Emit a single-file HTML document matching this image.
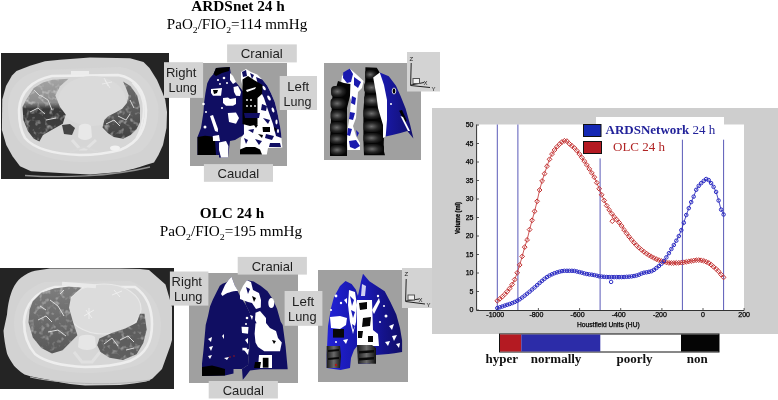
<!DOCTYPE html>
<html><head><meta charset="utf-8">
<style>
html,body{margin:0;padding:0;background:#fff}
body{width:778px;height:400px;position:relative;overflow:hidden}
.abs{position:absolute}
.ser{font-family:"Liberation Serif",serif;color:#000;white-space:nowrap}
.t1{font-weight:bold;font-size:14px;line-height:16px}
.t2{font-size:14px;line-height:16px}
sub{font-size:9px;vertical-align:-4px;line-height:0}
.lab{position:absolute;background:#d3d3d3;font-family:"Liberation Sans",sans-serif;font-size:13px;line-height:15px;color:#222;text-align:center}
.lab span{display:inline-block;transform:scaleX(1.04)}
.box{position:absolute;background:#9c9c9c}
.lt{font-family:"Liberation Sans",sans-serif;font-size:13px;fill:#1e1e1e}
.tk{font-family:"Liberation Sans",sans-serif;font-size:7px;fill:#000;stroke:#000;stroke-width:0.25px}
.lg{font-family:"Liberation Serif",serif;font-size:13px}
.bl{position:absolute;font-family:"Liberation Serif",serif;font-weight:bold;font-size:13px;color:#111;white-space:nowrap}
</style></head><body>
<div class="abs ser t1" style="left:138px;top:-0.7px;width:200px;text-align:center;transform:scaleX(1.095)">ARDSnet 24 h</div>
<div class="abs ser t2" style="left:137.2px;top:17px;width:200px;text-align:center;transform:scaleX(1.077)">PaO<sub>2</sub>/FIO<sub>2</sub>=114 mmHg</div>
<div class="abs ser t1" style="left:131.5px;top:205.5px;width:200px;text-align:center;transform:scaleX(1.09)">OLC 24 h</div>
<div class="abs ser t2" style="left:130.8px;top:224px;width:200px;text-align:center;transform:scaleX(1.088)">PaO<sub>2</sub>/FIO<sub>2</sub>=195 mmHg</div>

<svg class="abs" style="left:0;top:0" width="178" height="400" viewBox="0 0 178 400">
<defs>
<filter id="mot" x="0" y="0" width="100%" height="100%">
<feTurbulence type="fractalNoise" baseFrequency="0.2" numOctaves="2" seed="7" result="n"/>
<feColorMatrix in="n" type="matrix" values="0 0 0 0 1  0 0 0 0 1  0 0 0 0 1  0 0 0 -3 1.45"/>
<feComposite in2="SourceGraphic" operator="in"/>
</filter>
<linearGradient id="lgA" x1="0" y1="0" x2="0" y2="1"><stop offset="0" stop-color="#a4a4a4"/><stop offset="0.38" stop-color="#8c8c8c"/><stop offset="0.48" stop-color="#383838"/><stop offset="1" stop-color="#444"/></linearGradient>
<linearGradient id="lgB" x1="0" y1="0" x2="0" y2="1"><stop offset="0" stop-color="#6e6e6e"/><stop offset="0.5" stop-color="#5a5a5a"/><stop offset="1" stop-color="#404040"/></linearGradient>
<linearGradient id="lgC" x1="0" y1="0" x2="0" y2="1"><stop offset="0" stop-color="#7e7e7e"/><stop offset="1" stop-color="#585858"/></linearGradient>
</defs>
<!-- ===== CT1 ===== -->
<rect x="1" y="53" width="168" height="126" fill="#242424"/>
<path d="M2.25,99.5 L6,86 L12,75.5 L16.5,71 L30,65.7 L45,61.2 L60,59.7 L90,57.5 L130,58.2 L143.5,62 L149.5,68 L157,80 L162.2,92 L165.2,99.5 L167,112 L166.5,128 L163,145 L158.5,155 L154,162.5 C140,167 130,170 120,172 L90,174.5 L60,173.1 L31,171.3 L20,166.3 L12.5,156.3 L6.25,145 L1.9,130 Z" fill="#d2d2d2"/>
<path d="M25,175.5 C60,178 110,177 150,167" fill="none" stroke="#909090" stroke-width="1.3"/>
<path d="M8,105 C9,88 18,76 40,70 L120,67 C140,70 152,82 158,104 C160,120 156,140 140,152 C120,160 100,162 80,162 C55,161 30,155 18,140 C10,128 8,118 8,105 Z" fill="#d6d6d6"/>
<path d="M19,110 C20,92 32,80 52,76 L118,75 C136,78 145,92 146,110 C146,128 140,142 120,150 C105,154 90,155 80,155 C55,154 35,150 25,138 C20,130 19,120 19,110 Z" fill="none" stroke="#eeeeee" stroke-width="2.6"/>
<!-- heart -->
<ellipse cx="92" cy="101" rx="34" ry="25" fill="#dadada"/>
<path d="M105,80 L108,86 M102,84 L112,82 M104,78 L110,88" stroke="#eee" stroke-width="0.8"/>
<!-- left lung -->
<path id="l1" d="M26.3,99.4 L33.8,88 L43,82.5 L52.5,79.7 L68.5,78.75 L60,86.3 L55.3,95.6 L60,106.9 L65.7,114.4 L62.8,123.8 L52.5,129.4 L43,135 L39.4,141.6 L33.8,138.8 L28,131.3 L23.4,120 L22.5,106.9 Z" fill="url(#lgA)"/>
<path d="M26.3,99.4 L33.8,88 L43,82.5 L52.5,79.7 L68.5,78.75 L60,86.3 L55.3,95.6 L60,106.9 L65.7,114.4 L62.8,123.8 L52.5,129.4 L43,135 L39.4,141.6 L33.8,138.8 L28,131.3 L23.4,120 L22.5,106.9 Z" fill="#fff" filter="url(#mot)" opacity="0.45"/>
<path d="M62,125 L70,124 L75,128 L72,135 L64,134 Z" fill="#444"/>
<g stroke="#d8d8d8" stroke-width="1" fill="none"><path d="M30,112 L38,108 L45,114"/><path d="M40,95 L48,100 L52,110"/><path d="M46,120 L56,118"/><path d="M34,90 L40,96"/></g>
<!-- right lung -->
<path d="M123.1,81.6 L130.6,86.3 L137.2,95.6 L140,106.9 L140,121.9 L136.3,129.4 L130.6,135 L123.1,138.8 L113.8,136.9 L108.1,133.2 L102.5,127.5 L104.4,120 L108.1,116.3 L115.6,112.5 L122.2,108.8 L126.9,103.1 L128.8,95.6 L126,88.1 Z" fill="url(#lgB)"/>
<path d="M123.1,81.6 L130.6,86.3 L137.2,95.6 L140,106.9 L140,121.9 L136.3,129.4 L130.6,135 L123.1,138.8 L113.8,136.9 L108.1,133.2 L102.5,127.5 L104.4,120 L108.1,116.3 L115.6,112.5 L122.2,108.8 L126.9,103.1 L128.8,95.6 L126,88.1 Z" fill="#fff" filter="url(#mot)" opacity="0.45"/>
<g stroke="#d8d8d8" stroke-width="1" fill="none"><path d="M106,124 L114,120 L120,126"/><path d="M118,116 L126,120 L130,114"/><path d="M130,100 L134,108"/></g>
<path d="M132.5,82.5 C140,90 144,100 143.8,110 C143.5,120 142,128 136.3,138.8" fill="none" stroke="#ececec" stroke-width="2"/>
<!-- spine -->
<path d="M79,126 C82,123 88,123 91,126 L92,137 C89,141 81,141 78,137 Z" fill="#e8e8e8"/>
<path d="M72,140 L80,149 L86,149 L96,140" fill="none" stroke="#e2e2e2" stroke-width="3"/>
<path d="M70,152 L84,147 L98,152" fill="none" stroke="#d8d8d8" stroke-width="2"/>
<ellipse cx="115" cy="148" rx="5" ry="2.6" fill="#f2f2f2"/>
<rect x="71" y="71" width="18" height="4" fill="#ececec"/>

<!-- ===== CT2 ===== -->
<rect x="0" y="268" width="174" height="121" fill="#242424"/>
<path d="M7,314.5 C8,303 10,296 12.3,290 C15,284 18,280 21,277.8 C26,274 30,272 35,270.8 L50,268.5 L120,268.5 L140,269 L149,270 L165.5,284.5 L172,307 L172,340 L170.3,346 L162,369 L152.5,378.6 C150,380 148,381 146.3,381.5 C138,383 130,384 120,385 L85,385.5 C70,384.5 60,382.5 50,380 C40,378 32,377 24.5,374.5 C19,371 16,368 14,365.8 C10,360 8,356 7,353.5 C5,345 4,338 3.5,330.8 Z" fill="#d2d2d2"/>
<path d="M14,322 C15,302 25,288 45,282 L130,281 C150,288 160,305 161,324 C161,345 152,360 135,366 C115,372 100,373 85,373 C60,372 40,368 28,358 C18,348 14,336 14,322 Z" fill="#d6d6d6"/>
<path d="M24,322 C25,305 35,292 55,287 L135,287 C148,296 152,310 152,324 C152,342 146,354 130,361 C115,366 100,367 85,367 C62,366 45,362 35,354 C28,346 24,334 24,322 Z" fill="none" stroke="#eeeeee" stroke-width="2.6"/>
<!-- heart -->
<ellipse cx="104" cy="309" rx="37" ry="25" fill="#dcdcdc" stroke="#e8e8e8" stroke-width="1.2"/>
<g stroke="#f2f2f2" stroke-width="0.8"><path d="M84,316 L94,310 M86,310 L92,318 M89,308 L89,319"/><path d="M112,295 L122,291 M114,290 L120,297"/></g>
<!-- left lung -->
<path d="M32.8,301.3 L41.3,292.8 L54,288.5 L69,286.4 L81.7,287.4 L71,297 L69,307.7 L73.2,322.6 L77.4,335.3 L69,343.8 L62.6,350.2 L52,353.4 L41.3,348 L32.8,337.4 L28.5,322.6 L29.6,309.8 Z" fill="url(#lgC)"/>
<path d="M32.8,301.3 L41.3,292.8 L54,288.5 L69,286.4 L81.7,287.4 L71,297 L69,307.7 L73.2,322.6 L77.4,335.3 L69,343.8 L62.6,350.2 L52,353.4 L41.3,348 L32.8,337.4 L28.5,322.6 L29.6,309.8 Z" fill="#fff" filter="url(#mot)" opacity="0.4"/>
<g stroke="#dcdcdc" stroke-width="1" fill="none"><path d="M38,320 L46,316 L52,322"/><path d="M50,300 L58,306 L64,316"/><path d="M48,332 L58,330 L66,336"/><path d="M60,294 L64,290"/><path d="M40,306 L46,310"/></g>
<!-- right lung -->
<path d="M97.2,345.3 L99.4,338.6 L111.8,332.9 L125.3,328.4 L136.6,322.8 L140,313.8 L144.5,313.8 L146.7,329.5 L143.3,343 L136.6,354.3 L123,360 L109.5,357.7 L100.5,352 Z" fill="#5e5e5e"/>
<path d="M97.2,345.3 L99.4,338.6 L111.8,332.9 L125.3,328.4 L136.6,322.8 L140,313.8 L144.5,313.8 L146.7,329.5 L143.3,343 L136.6,354.3 L123,360 L109.5,357.7 L100.5,352 Z" fill="#fff" filter="url(#mot)" opacity="0.4"/>
<g stroke="#dcdcdc" stroke-width="1" fill="none"><path d="M104,344 L112,338 L118,346"/><path d="M120,340 L128,336 L134,342"/><path d="M126,350 L134,348"/></g>
<!-- spine -->
<path d="M79,337 C82,334 92,334 95,337 L96,347 C92,351 82,351 78,347 Z" fill="#e6e6e6"/>
<path d="M74,352 L82,362 L92,362 L100,352" fill="none" stroke="#e0e0e0" stroke-width="3"/>
<rect x="62" y="283" width="34" height="4" fill="#eaeaea" transform="rotate(4 79 285)"/>
<path d="M30,377 C55,383 110,387 150,380" fill="none" stroke="#b5b5b5" stroke-width="1"/>
</svg>


<!-- upper 3D -->
<svg class="abs" style="left:0;top:0" width="440" height="400" viewBox="0 0 440 400">
<defs>
<linearGradient id="bl1" x1="0" y1="0" x2="1" y2="0"><stop offset="0" stop-color="#2222d8"/><stop offset="1" stop-color="#1616a8"/></linearGradient>
<linearGradient id="bl2" x1="0" y1="0" x2="1" y2="0"><stop offset="0" stop-color="#1e1ec8"/><stop offset="0.6" stop-color="#14128a"/><stop offset="1" stop-color="#100e66"/></linearGradient>
<linearGradient id="bl3" x1="0" y1="0" x2="1" y2="0"><stop offset="0" stop-color="#1a1ab0"/><stop offset="1" stop-color="#110f6c"/></linearGradient>
</defs>
<!-- ===== upper middle (ARDSnet front) ===== -->
<rect x="190" y="63" width="97" height="103" fill="#a0a0a0"/>
<g>
<!-- right lung (image left) -->
<path d="M213.5,74 L216,68 L229.75,67 L231,74.5 L234.75,80.75 L239.75,87 L243.5,92 L244,135 L240,137 L235,140 L230,141 L228,157.5 L219,157.5 L219,155 L197.5,155 L197.5,137 L201,128 L203.5,112 L204,103.25 L205.4,93.25 L207.25,83.25 L209.75,78.25 Z" fill="#100e62"/>
<path d="M213.5,74 L216,68 L229.75,67 L229,71 L222,73 L216,76 Z" fill="#000"/>
<path d="M197.5,137 L205,135.75 L212,136.5 L215,140 L216,155 L197.5,155 Z" fill="#000"/>
<path d="M223,98 L228,97.6 L230,99 L236,98 L236,104 L233,105.75 L226,105.75 L223,103 Z" fill="#fff"/>
<path d="M227.8,113 L236,112.5 L239,118 L236,123.8 L229,122 Z" fill="#fff"/>
<path d="M233.5,87 L238,86 L241,92 L240,96 L236,95.75 L234,92 Z" fill="#fff"/>
<path d="M210,116 L213,115 L218,129 L217.8,132 L215,131 Z" fill="#fff"/>
<path d="M212.8,136 L219,135 L220,141 L213,141 Z" fill="#fff"/>
<path d="M219,142.5 L226,141 L228.4,146 L228,157.5 L221,157.5 L219,150 Z" fill="#fff"/>
<path d="M211,89 L222,88 L221,95.75 L213,95.75 L211,93 Z" fill="#fff"/>
<path d="M213,90 L218,90 L217,93 L214,94 Z" fill="#000"/>
<path d="M230,73 L233,76 L236,82 L233,84 L230,80 Z" fill="#fff"/>
<g fill="#fff"><circle cx="203.5" cy="104" r="1.3"/><circle cx="205" cy="127" r="1.5"/><circle cx="218" cy="80" r="1.1"/>
<circle cx="224" cy="78" r="1.3"/><circle cx="227" cy="83" r="1"/><circle cx="222" cy="108" r="1"/><circle cx="206" cy="112" r="1"/><circle cx="220" cy="84" r="0.9"/></g>
<!-- left lung (image right) -->
<path d="M241,80 L241,72 L246,68.9 L251,72 L257.25,74.5 L262.25,79.5 L267.25,85.75 L271,93.25 L274.75,102 L277.25,112 L280.5,128.8 L282.4,147.5 L268,148 L266.8,154.5 L240,154.5 L241,138 L244,134 L244,92 Z" fill="#fff"/>
<path d="M256,77 L262.25,79.5 L267.25,85.75 L271,93.25 L274.75,102 L277.25,112 L280.5,128.8 L281.5,138 L276,136 L273,124 L268,110 L264,98 L259,88 Z" fill="#100e62"/>
<g fill="#fff"><ellipse cx="264" cy="88" rx="1.3" ry="2.6" transform="rotate(-35 264 88)"/><ellipse cx="269" cy="98" rx="1.3" ry="2.8" transform="rotate(-30 269 98)"/>
<ellipse cx="273" cy="110" rx="1.2" ry="2.6" transform="rotate(-20 273 110)"/><ellipse cx="276.5" cy="122" rx="1.1" ry="2.4"/><ellipse cx="278" cy="131" rx="1" ry="2"/></g>
<g fill="#100e62"><path d="M242,72 L246,70 L247,76 L243,77 Z"/><path d="M250,73 L254,75 L252,79 Z"/><path d="M258,80 L262,82 L260,85 Z"/></g>
<path d="M242.5,79.5 L248,76 L254,80 L262.5,85 L262,94 L257.5,98 L257.5,124.5 L250,126 L242.5,124 Z" fill="#000"/>
<g fill="#fff"><path d="M246,90 L256,87 L255,89 L247,92 Z"/><circle cx="247" cy="100" r="0.9"/><circle cx="251" cy="100" r="0.9"/><circle cx="247" cy="106" r="0.9"/><circle cx="251" cy="106" r="0.9"/><circle cx="255" cy="106" r="0.9"/></g>
<path d="M244,113 L260,113 L259,118 L245,118 Z" fill="#100e62"/>
<g fill="#100e62"><path d="M262,104 L267,106 L266,111 L261,110 Z"/><path d="M263,118 L270,120 L268,124 Z"/><path d="M248,130 L254,129 L253,133 Z"/>
<path d="M266,134 L274,136 L272,140 L265,138 Z"/><path d="M255,139 L262,141 L259,145 Z"/><path d="M270,143 L280,143 L281,147 L269,147 Z"/><path d="M244,138 L248,140 L246,144 Z"/></g>
<g fill="#000"><path d="M262.5,127 L270,127 L270,132 L263,132 Z"/><path d="M252,122 L258,125 L256,128 Z"/><path d="M258,134 L263,135 L262,138 Z"/><path d="M274,127 L277,129 L275,132 Z"/></g>
<path d="M246,147 L255,147 L260,149.5 L262,154.5 L240,154.5 L240,149.5 Z" fill="#000"/>
</g>


<!-- ===== upper right (ARDSnet side) ===== -->
<rect x="324" y="63" width="97" height="97" fill="#a0a0a0"/>
<!-- left lung strip -->
<path d="M342,76 L349.8,68.4 L356,74 L363.6,81 L362,88 L358,92 L357,104 L356,118 L353,126 L356,136 L360,143 L360,150 L347.4,150 L347,141.8 L348,127 L350,114 L351,100 L347,90 L341,84 Z" fill="#fff"/>
<path d="M343.2,72.6 L349.8,68.4 L353,74 L351,82 L347,83 L343,78 Z" fill="#1a1aae"/>
<path d="M354,77 L361,82 L358,88 L354,85 Z" fill="#1a1aae"/>
<path d="M352,96 L356,98 L355,105 L351,103 Z" fill="#1a1aae"/>
<path d="M350,112 L355,113 L353,120 L349,119 Z" fill="#1a1aae"/>
<path d="M348,128 L352,129 L350,136 L347,135 Z" fill="#1a1aae"/>
<path d="M349,141 L356,140 L360,146 L355,149 L350,147 Z" fill="#1a1aae"/>
<path d="M356,130 L359,133 L357,137 Z" fill="#1a1aae"/>
<!-- columns -->
<defs><radialGradient id="vg" cx="0.4" cy="0.5" r="0.6"><stop offset="0" stop-color="#6e6e6e"/><stop offset="0.55" stop-color="#262626"/><stop offset="1" stop-color="#050505"/></radialGradient></defs>
<path d="M338,81 L344,83 L350.4,84 L350,96 L347,108 L347,156 L330,156 L330,140 L331,120 L332.4,96.6 L336,88 Z" fill="#050505"/>
<g fill="url(#vg)">
<rect x="331" y="86" width="16" height="11" rx="4"/><rect x="330.5" y="98" width="16.5" height="11" rx="4"/><rect x="330.5" y="110" width="16.5" height="11" rx="4"/>
<rect x="330" y="122" width="17" height="11" rx="4"/><rect x="330" y="134" width="17" height="10" rx="4"/><rect x="330.5" y="145" width="16.5" height="10" rx="4"/>
</g>
<path d="M365.4,67.2 L376.8,67.8 L380.4,73.8 L378,78 L384,95 L384,130 L383.6,150 L385,155.3 L364,155.3 L363.4,140 L363.4,110 L365,90 Z" fill="#050505"/>
<g fill="url(#vg)">
<rect x="365" y="70" width="13" height="9" rx="3.5"/><rect x="364" y="82" width="19" height="11" rx="4"/><rect x="364" y="95" width="19.5" height="11" rx="4"/>
<rect x="363.5" y="108" width="20" height="11" rx="4"/><rect x="363.5" y="121" width="20" height="11" rx="4"/><rect x="363.5" y="133" width="20" height="10" rx="4"/><rect x="364" y="144" width="20" height="10" rx="4"/>
</g>
<!-- right lung -->
<path d="M373.2,77.4 L379.8,72.6 L384,81 L388,90 L388,110 L387,130 L385.7,136.4 L383,138 L383,125 L378,108 L376,93 Z" fill="#fff"/>
<path d="M379.8,72.6 L388.8,76.2 L396,85.8 L400.8,96.6 L405.6,108.6 L410,124.2 L413.4,138.4 L407.3,131 L400.5,133 L392.4,135 L385.7,136.4 L387,120 L387,100 L384,85 Z" fill="url(#bl3)"/>
<path d="M399.2,110.7 L402,110 L406.6,120 L405,123 Z" fill="#000"/>
<path d="M400.5,116 L403,117 L410,131 L408,131 Z" fill="#fff"/>
<ellipse cx="394" cy="91" rx="1.8" ry="3" fill="#000" stroke="#fff" stroke-width="0.8"/>
<circle cx="391" cy="104" r="1" fill="#fff"/>
<!-- axis box -->
<rect x="407" y="52" width="33" height="39.5" fill="#d3d3d3"/>
<g stroke="#222" stroke-width="1" fill="none">
<path d="M411.2,63 L410.6,85.5 L430,87.5"/>
<path d="M411,85 L424,82.5"/>
<rect x="413" y="78.5" width="6.5" height="5" fill="#f0f0f0" stroke="#555"/>
</g>
<text x="409.5" y="61" font-family="Liberation Sans,sans-serif" font-size="6px" fill="#222">Z</text>
<text x="423.5" y="85" font-family="Liberation Sans,sans-serif" font-size="6px" fill="#222">X</text>
<text x="431.5" y="91" font-family="Liberation Sans,sans-serif" font-size="6px" fill="#222">Y</text>

<!-- ===== lower middle (OLC front) ===== -->
<rect x="189" y="273" width="109" height="110" fill="#a0a0a0"/>
<!-- right lung -->
<path d="M231.5,276.8 L234.9,285.8 L240.4,296.8 L245.9,305 L250,313.3 L250,340 L248,365 L242,369 L233.5,369 L233.5,373.4 L225,375.6 L202,376 L202,363.5 L203.5,350 L205.7,325 L208,316 L210,306.4 L212.9,299.5 L217,291.3 L219.8,285.8 L222.5,283.7 L226.6,282.3 Z" fill="#100e62"/>
<path d="M231.5,276.8 L234.9,285.8 L238,291 C232,291 226,293 222.5,296 L221,294 L225,285 L228.5,280 Z" fill="#fff"/>
<path d="M202,367 L212,365.5 L218,367 L225,369 L225,375.6 L202,376 Z" fill="#000"/>
<!-- left lung -->
<path d="M242.8,290 L246.9,280.3 L253.8,281.6 L260.6,285.8 L267.5,291.3 L273,299.5 L277.1,309.1 L280.6,321.5 L282.7,325 L285.6,346.4 L287.7,369.2 L260,369.2 L250,370.6 L245.7,376.3 L242.8,379.8 L242,369 L248,365 L250,340 L250,313.3 L245.9,305 Z" fill="#100e62"/>
<path d="M246.9,280.3 L251,282 L253,290 L259,293 L261,300 L260.8,307.5 L256,309 L252,303 L248,302 L244,300.5 L240,299 L240,292 L243,286 Z" fill="#fff"/>
<path d="M246,287 L250,289 L248,294 Z" fill="#100e62"/>
<path d="M252,296 L256,298 L254,302 Z" fill="#000"/>
<path d="M255.5,312.8 L260,311 L266,318 L266,325 L258,326 L255,320 Z" fill="#fff"/>
<ellipse cx="271.3" cy="303.1" rx="3" ry="5" fill="#fff"/>
<path d="M255.5,323.3 L266,323 L270,328 L276,331 L278,338 L281.8,342.5 L280,351.3 L264.3,351.3 L258,347 L255.5,342.5 L254.6,333.8 Z" fill="#fff"/>
<path d="M241.5,326.8 L248.5,327 L248,333.8 L242,333 Z" fill="#fff"/>
<path d="M242.4,347.8 L246.8,347.8 L246.8,350.4 L242.4,350.4 Z" fill="#fff"/>
<path d="M272,340 L276,341 L274,344 Z" fill="#000"/>
<path d="M259,355 L272,355 L272,368 L258,368 Z" fill="#fff"/>
<path d="M262.8,357.8 L268.5,357.8 L268.5,367.7 L262.8,367.7 Z" fill="#000"/>
<path d="M255,362 L261,362 L260,368 L254,368 Z" fill="#000"/>
<!-- white specks -->
<g fill="#fff">
<path d="M208,339 L212,337 L211,342 Z"/><path d="M209,347 L213,346 L211,351 Z"/><path d="M208,356 L212,355 L210,359 Z"/>
<path d="M222,336 L224,334 L224,339 Z"/><path d="M224,358 L229,357 L227,360 Z"/><path d="M243,330 L248,329 L247,333 Z"/>
<path d="M245,340 L248,338 L248,344 Z"/><path d="M244,350 L249,349 L248,355 Z"/><circle cx="247" cy="318" r="1.3"/><circle cx="246" cy="324" r="1"/>
<path d="M250,315 L253,316 L252,320 Z"/>
</g>
<g fill="#a01818"><circle cx="230" cy="357" r="0.8"/><circle cx="234" cy="356" r="0.8"/></g>

<!-- ===== lower right (OLC side) ===== -->
<rect x="318" y="270" width="90" height="112" fill="#a0a0a0"/>
<defs><linearGradient id="sg" x1="0" y1="0" x2="1" y2="0"><stop offset="0" stop-color="#1a1a1a"/><stop offset="0.5" stop-color="#6a6a6a"/><stop offset="1" stop-color="#101010"/></linearGradient></defs>
<!-- left lung -->
<path d="M345.5,281 L351.6,284 L355.8,289.6 L358.6,298 L359.3,326 L358,345 L354,350 L351,358 L350,368 L340.5,370 L326.7,368 L326.7,355 L328,326 L331,308 L334,297 L340,286 Z" fill="url(#bl1)"/>
<path d="M349,290 L355,292 L357,305 L356,322 L353,334 L350,322 L348,305 Z" fill="#fff"/>
<g fill="#1a1ab8"><path d="M350,296 L354,300 L352,306 Z"/><path d="M351,310 L355,312 L353,318 Z"/><path d="M352,324 L355,326 L353,330 Z"/></g>
<path d="M330,317 L340,316 L347,318 L346,325 L340,329 L331,328 Z" fill="#fff"/>
<path d="M333,329 L344,329 L344,337.6 L333,337.6 Z" fill="#080808"/>
<path d="M326.7,346 L340,346 L341,356 L340,368 L326.7,368 Z" fill="url(#sg)"/>
<path d="M328,350 L339,349 L339,351 L328,352 Z M328,358 L339,357 L339,359 L328,360 Z" fill="#0a0a0a"/>
<g fill="#fff"><circle cx="336" cy="296" r="1.4"/><circle cx="341" cy="303" r="1.2"/><circle cx="331" cy="310" r="1.1"/><path d="M344,300 L347,298 L347,304 Z"/><path d="M343,340 L348,339 L346,344 Z"/><circle cx="336" cy="342" r="1"/></g>
<!-- right lung -->
<path d="M363,273.8 L369.4,281.2 L377.8,286.8 L384.7,291.2 L390.4,302 L396.3,314.4 L400,328 L402.1,340.5 L402.1,352 L394.5,353.2 L388.5,354 L376,355 L370.2,363.7 L358.6,363.7 L357,340 L357,300 L359.6,288.2 L361,281.2 Z" fill="url(#bl2)"/>
<path d="M357,300 L372,300 L373,330 L378,334 L379,346 L357,346 Z" fill="#fff"/>
<g fill="#080808"><path d="M359,303 L367,302 L367,309 L360,310 Z"/><path d="M363,318 L371,317 L370,326 L362,327 Z"/><path d="M358,331 L363,331 L362,338 L358,338 Z"/><path d="M368,336 L373,336 L373,342 L368,342 Z"/></g>
<path d="M357,345 L372,345 L376,348 L376,363.7 L358,363.7 Z" fill="url(#sg)"/>
<path d="M359,351 L374,350 L374,352.5 L359,353.5 Z M359,358 L374,357 L374,359.5 L359,360.5 Z" fill="#0a0a0a"/>
<path d="M362,284 L366,286 L365,296 L361,296 Z" fill="#fff" opacity="0.8"/>
<path d="M372,310 L379,298 L380,302 L374,314 Z" fill="#fff"/>
<g fill="#fff"><circle cx="378" cy="296" r="1.2"/><circle cx="386" cy="316" r="1.5"/><path d="M389,326 L394,324 L392,330 Z"/><path d="M392,336 L397,335 L394,341 Z"/><path d="M385,342 L390,341 L388,346 Z"/><circle cx="384" cy="306" r="1"/><path d="M396,344 L400,343 L399,348 Z"/><circle cx="380" cy="322" r="1"/></g>
<circle cx="336" cy="365" r="1.2" fill="#b01818"/>
<!-- axis box -->
<rect x="402" y="268" width="31" height="40" fill="#d3d3d3"/>
<g stroke="#222" stroke-width="1" fill="none">
<path d="M406.2,279 L405.6,301.5 L425,304"/>
<path d="M406,301 L419,299"/>
<rect x="408" y="295" width="6.5" height="5" fill="#f0f0f0" stroke="#555"/>
</g>
<text x="404.5" y="276" font-family="Liberation Sans,sans-serif" font-size="6px" fill="#222">Z</text>
<text x="418.5" y="302" font-family="Liberation Sans,sans-serif" font-size="6px" fill="#222">X</text>
<text x="426.5" y="307" font-family="Liberation Sans,sans-serif" font-size="6px" fill="#222">Y</text>
</svg>

<svg class="abs" style="left:0;top:0" width="340" height="400" viewBox="0 0 340 400">
<rect x="227.1" y="44.4" width="69.7" height="18.0" fill="#d3d3d3"/>
<text x="240.70" y="57.70" textLength="42.10" lengthAdjust="spacingAndGlyphs" class="lt">Cranial</text>
<rect x="164" y="62.2" width="39.1" height="35.7" fill="#d3d3d3"/>
<text x="165.90" y="76.90" textLength="30.50" lengthAdjust="spacingAndGlyphs" class="lt">Right</text>
<text x="168.60" y="92.10" textLength="28.30" lengthAdjust="spacingAndGlyphs" class="lt">Lung</text>
<rect x="279.7" y="76" width="37.3" height="34.0" fill="#d3d3d3"/>
<text x="287.20" y="90.70" textLength="22.10" lengthAdjust="spacingAndGlyphs" class="lt">Left</text>
<text x="283.50" y="105.80" textLength="27.90" lengthAdjust="spacingAndGlyphs" class="lt">Lung</text>
<rect x="203.9" y="164.1" width="69.1" height="17.7" fill="#d3d3d3"/>
<text x="217.60" y="177.50" textLength="41.50" lengthAdjust="spacingAndGlyphs" class="lt">Caudal</text>
<rect x="237.7" y="256.9" width="69.2" height="17.7" fill="#d3d3d3"/>
<text x="251.70" y="270.50" textLength="41.20" lengthAdjust="spacingAndGlyphs" class="lt">Cranial</text>
<rect x="169.9" y="271.5" width="38.5" height="34.1" fill="#d3d3d3"/>
<text x="171.60" y="285.80" textLength="30.40" lengthAdjust="spacingAndGlyphs" class="lt">Right</text>
<text x="174.00" y="301.20" textLength="28.50" lengthAdjust="spacingAndGlyphs" class="lt">Lung</text>
<rect x="284.6" y="291" width="37.8" height="34.8" fill="#d3d3d3"/>
<text x="292.10" y="305.80" textLength="22.20" lengthAdjust="spacingAndGlyphs" class="lt">Left</text>
<text x="288.10" y="321.20" textLength="28.40" lengthAdjust="spacingAndGlyphs" class="lt">Lung</text>
<rect x="208.7" y="381" width="69.2" height="17.5" fill="#d3d3d3"/>
<text x="222.70" y="394.60" textLength="41.20" lengthAdjust="spacingAndGlyphs" class="lt">Caudal</text>
</svg>

<svg class="abs" style="left:0;top:0" width="778" height="400" viewBox="0 0 778 400">
<rect x="432" y="108" width="346" height="226" fill="#cecece"/>
<rect x="476.6" y="124.5" width="267.4" height="185.5" fill="#fff"/>
<rect x="596" y="117" width="128" height="22.7" fill="#fff"/>
<line x1="497.3" y1="124.5" x2="497.3" y2="310" stroke="#5a5ab8" stroke-width="1"/>
<line x1="517.9" y1="124.5" x2="517.9" y2="310" stroke="#5a5ab8" stroke-width="1"/>
<line x1="600.1" y1="158.4" x2="600.1" y2="310" stroke="#5a5ab8" stroke-width="1"/>
<line x1="682.4" y1="139.7" x2="682.4" y2="310" stroke="#5a5ab8" stroke-width="1"/>
<line x1="723.6" y1="139.7" x2="723.6" y2="310" stroke="#5a5ab8" stroke-width="1"/>
<path d="M476.6 124.5V310.5H744" fill="none" stroke="#333" stroke-width="1"/>
<line x1="476.6" y1="310.0" x2="479" y2="310.0" stroke="#333" stroke-width="0.8"/>
<text x="473.5" y="312.4" text-anchor="end" class="tk">0</text>
<line x1="476.6" y1="291.5" x2="479" y2="291.5" stroke="#333" stroke-width="0.8"/>
<text x="473.5" y="293.9" text-anchor="end" class="tk">5</text>
<line x1="476.6" y1="273.0" x2="479" y2="273.0" stroke="#333" stroke-width="0.8"/>
<text x="473.5" y="275.4" text-anchor="end" class="tk">10</text>
<line x1="476.6" y1="254.5" x2="479" y2="254.5" stroke="#333" stroke-width="0.8"/>
<text x="473.5" y="256.9" text-anchor="end" class="tk">15</text>
<line x1="476.6" y1="236.0" x2="479" y2="236.0" stroke="#333" stroke-width="0.8"/>
<text x="473.5" y="238.4" text-anchor="end" class="tk">20</text>
<line x1="476.6" y1="217.5" x2="479" y2="217.5" stroke="#333" stroke-width="0.8"/>
<text x="473.5" y="219.9" text-anchor="end" class="tk">25</text>
<line x1="476.6" y1="199.0" x2="479" y2="199.0" stroke="#333" stroke-width="0.8"/>
<text x="473.5" y="201.4" text-anchor="end" class="tk">30</text>
<line x1="476.6" y1="180.5" x2="479" y2="180.5" stroke="#333" stroke-width="0.8"/>
<text x="473.5" y="182.9" text-anchor="end" class="tk">35</text>
<line x1="476.6" y1="162.0" x2="479" y2="162.0" stroke="#333" stroke-width="0.8"/>
<text x="473.5" y="164.4" text-anchor="end" class="tk">40</text>
<line x1="476.6" y1="143.5" x2="479" y2="143.5" stroke="#333" stroke-width="0.8"/>
<text x="473.5" y="145.9" text-anchor="end" class="tk">45</text>
<line x1="476.6" y1="125.0" x2="479" y2="125.0" stroke="#333" stroke-width="0.8"/>
<text x="473.5" y="127.4" text-anchor="end" class="tk">50</text>
<line x1="497.3" y1="310.5" x2="497.3" y2="308" stroke="#333" stroke-width="0.8"/>
<text x="495.3" y="317" text-anchor="middle" class="tk">-1000</text>
<line x1="538.4" y1="310.5" x2="538.4" y2="308" stroke="#333" stroke-width="0.8"/>
<text x="536.4" y="317" text-anchor="middle" class="tk">-800</text>
<line x1="579.6" y1="310.5" x2="579.6" y2="308" stroke="#333" stroke-width="0.8"/>
<text x="577.6" y="317" text-anchor="middle" class="tk">-600</text>
<line x1="620.7" y1="310.5" x2="620.7" y2="308" stroke="#333" stroke-width="0.8"/>
<text x="618.7" y="317" text-anchor="middle" class="tk">-400</text>
<line x1="661.9" y1="310.5" x2="661.9" y2="308" stroke="#333" stroke-width="0.8"/>
<text x="659.9" y="317" text-anchor="middle" class="tk">-200</text>
<line x1="703.0" y1="310.5" x2="703.0" y2="308" stroke="#333" stroke-width="0.8"/>
<text x="703.0" y="317" text-anchor="middle" class="tk">0</text>
<line x1="744.1" y1="310.5" x2="744.1" y2="308" stroke="#333" stroke-width="0.8"/>
<text x="744.1" y="317" text-anchor="middle" class="tk">200</text>
<text x="577" y="326.6" textLength="62.7" lengthAdjust="spacingAndGlyphs" class="tk">Houstfield Units (HU)</text>
<text transform="translate(460.3 218) rotate(-90)" x="-16" y="0" textLength="32" lengthAdjust="spacingAndGlyphs" class="tk" font-weight="bold" stroke-width="0">Volume (ml)</text>
<polyline points="497.3,300.8 499.8,298.9 502.3,296.7 504.8,294.2 507.2,291.6 509.7,288.4 512.2,284.5 514.7,279.5 517.2,272.8 519.7,264.9 522.2,256.4 524.7,247.1 527.1,239.9 529.6,229.6 532.1,220.3 534.6,211.3 537.1,201.3 539.6,190.0 542.1,181.0 544.5,173.7 547.0,166.2 549.5,159.3 552.0,154.1 554.5,150.0 557.0,146.8 559.5,144.2 561.9,142.0 564.4,140.8 566.9,141.1 569.4,143.8 571.9,145.9 574.4,148.0 576.9,150.8 579.4,154.1 581.8,157.5 584.3,161.1 586.8,164.9 589.3,168.9 591.8,172.9 594.3,177.2 596.8,182.7 599.2,188.8 601.7,194.8 604.2,200.5 606.7,205.6 609.2,209.9 611.7,213.6 614.2,216.9 616.7,219.7 619.1,222.5 621.6,225.9 624.1,229.9 626.6,233.4 629.1,236.7 631.6,239.8 634.1,242.7 636.5,245.3 639.0,247.7 641.5,249.8 644.0,251.8 646.5,253.6 649.0,255.2 651.5,256.7 653.9,258.0 656.4,259.2 658.9,260.1 661.4,261.0 663.9,261.7 666.4,262.4 668.9,262.9 671.4,263.0 673.8,263.0 676.3,262.9 678.8,262.8 681.3,262.6 683.8,262.3 686.3,261.9 688.8,261.4 691.2,261.0 693.7,260.5 696.2,260.2 698.7,260.1 701.2,260.3 703.7,260.9 706.2,261.8 708.7,262.9 711.1,264.7 713.6,266.9 716.1,269.0 718.6,271.4 721.1,274.6 723.6,277.4" fill="none" stroke="#c03030" stroke-width="0.8"/>
<polyline points="497.3,308.1 499.8,307.3 502.3,306.5 504.8,305.6 507.2,304.8 509.7,304.0 512.2,303.1 514.7,302.0 517.2,300.8 519.7,299.3 522.2,297.5 524.7,295.6 527.1,293.7 529.6,291.7 532.1,289.5 534.6,287.4 537.1,285.2 539.6,282.9 542.1,280.8 544.5,278.8 547.0,277.0 549.5,275.5 552.0,274.3 554.5,273.2 557.0,272.4 559.5,271.7 561.9,271.1 564.4,270.8 566.9,270.8 569.4,270.8 571.9,270.8 574.4,270.9 576.9,271.5 579.4,272.1 581.8,272.7 584.3,273.4 586.8,274.0 589.3,274.4 591.8,274.7 594.3,275.1 596.8,275.7 599.2,276.3 601.7,276.6 604.2,276.8 606.7,277.0 609.2,277.1 611.7,277.1 614.2,277.1 616.7,277.1 619.1,277.1 621.6,277.1 624.1,277.0 626.6,276.8 629.1,276.7 631.6,276.4 634.1,276.0 636.5,275.5 639.0,274.7 641.5,273.5 644.0,272.7 646.5,272.3 649.0,271.8 651.5,271.2 653.9,269.9 656.4,268.0 658.9,266.0 661.4,263.8 663.9,260.9 666.4,257.3 668.9,253.2 671.4,249.0 673.8,245.0 676.3,240.7 678.8,236.1 681.3,230.2 683.8,222.7 686.3,215.0 688.8,208.2 691.2,202.1 693.7,196.6 696.2,189.8 698.7,185.9 701.2,183.2 703.7,180.9 706.2,179.0 708.7,180.1 711.1,183.1 713.6,186.9 716.1,191.9 718.6,200.5 721.1,209.6 723.6,214.5" fill="none" stroke="#2020b0" stroke-width="0.8"/>
<g fill="none" stroke="#c43434" stroke-width="1"><path d="M494.9 300.8L497.3 298.4L499.7 300.8L497.3 303.1Z"/><path d="M497.4 298.9L499.8 296.5L502.2 298.9L499.8 301.3Z"/><path d="M499.9 296.7L502.3 294.3L504.7 296.7L502.3 299.1Z"/><path d="M502.4 294.2L504.8 291.8L507.2 294.2L504.8 296.6Z"/><path d="M504.8 291.6L507.2 289.2L509.6 291.6L507.2 294.0Z"/><path d="M507.3 288.4L509.7 286.0L512.1 288.4L509.7 290.8Z"/><path d="M509.8 284.5L512.2 282.1L514.6 284.5L512.2 286.9Z"/><path d="M512.3 279.5L514.7 277.1L517.1 279.5L514.7 281.9Z"/><path d="M514.8 272.8L517.2 270.4L519.6 272.8L517.2 275.2Z"/><path d="M517.3 264.9L519.7 262.5L522.1 264.9L519.7 267.3Z"/><path d="M519.8 256.4L522.2 254.0L524.6 256.4L522.2 258.8Z"/><path d="M522.3 247.1L524.7 244.7L527.1 247.1L524.7 249.5Z"/><path d="M524.7 239.9L527.1 237.5L529.5 239.9L527.1 242.3Z"/><path d="M527.2 229.6L529.6 227.2L532.0 229.6L529.6 232.0Z"/><path d="M529.7 220.3L532.1 217.9L534.5 220.3L532.1 222.7Z"/><path d="M532.2 211.3L534.6 208.9L537.0 211.3L534.6 213.7Z"/><path d="M534.7 201.3L537.1 198.9L539.5 201.3L537.1 203.7Z"/><path d="M537.2 190.0L539.6 187.6L542.0 190.0L539.6 192.4Z"/><path d="M539.7 181.0L542.1 178.6L544.5 181.0L542.1 183.4Z"/><path d="M542.1 173.7L544.5 171.3L546.9 173.7L544.5 176.1Z"/><path d="M544.6 166.2L547.0 163.8L549.4 166.2L547.0 168.6Z"/><path d="M547.1 159.3L549.5 156.9L551.9 159.3L549.5 161.7Z"/><path d="M549.6 154.1L552.0 151.7L554.4 154.1L552.0 156.5Z"/><path d="M552.1 150.0L554.5 147.6L556.9 150.0L554.5 152.4Z"/><path d="M554.6 146.8L557.0 144.4L559.4 146.8L557.0 149.2Z"/><path d="M557.1 144.2L559.5 141.8L561.9 144.2L559.5 146.6Z"/><path d="M559.5 142.0L561.9 139.6L564.3 142.0L561.9 144.4Z"/><path d="M562.0 140.8L564.4 138.4L566.8 140.8L564.4 143.2Z"/><path d="M564.5 141.1L566.9 138.7L569.3 141.1L566.9 143.5Z"/><path d="M567.0 143.8L569.4 141.4L571.8 143.8L569.4 146.2Z"/><path d="M569.5 145.9L571.9 143.5L574.3 145.9L571.9 148.3Z"/><path d="M572.0 148.0L574.4 145.6L576.8 148.0L574.4 150.4Z"/><path d="M574.5 150.8L576.9 148.4L579.3 150.8L576.9 153.2Z"/><path d="M577.0 154.1L579.4 151.7L581.8 154.1L579.4 156.5Z"/><path d="M579.4 157.5L581.8 155.1L584.2 157.5L581.8 159.9Z"/><path d="M581.9 161.1L584.3 158.7L586.7 161.1L584.3 163.5Z"/><path d="M584.4 164.9L586.8 162.5L589.2 164.9L586.8 167.3Z"/><path d="M586.9 168.9L589.3 166.5L591.7 168.9L589.3 171.3Z"/><path d="M589.4 172.9L591.8 170.5L594.2 172.9L591.8 175.3Z"/><path d="M591.9 177.2L594.3 174.8L596.7 177.2L594.3 179.6Z"/><path d="M594.4 182.7L596.8 180.3L599.2 182.7L596.8 185.1Z"/><path d="M596.8 188.8L599.2 186.4L601.6 188.8L599.2 191.2Z"/><path d="M599.3 194.8L601.7 192.4L604.1 194.8L601.7 197.2Z"/><path d="M601.8 200.5L604.2 198.1L606.6 200.5L604.2 202.9Z"/><path d="M604.3 205.6L606.7 203.2L609.1 205.6L606.7 208.0Z"/><path d="M606.8 209.9L609.2 207.5L611.6 209.9L609.2 212.3Z"/><path d="M609.3 213.6L611.7 211.2L614.1 213.6L611.7 216.0Z"/><path d="M611.8 216.9L614.2 214.5L616.6 216.9L614.2 219.3Z"/><path d="M614.3 219.7L616.7 217.3L619.1 219.7L616.7 222.1Z"/><path d="M616.7 222.5L619.1 220.1L621.5 222.5L619.1 224.9Z"/><path d="M619.2 225.9L621.6 223.5L624.0 225.9L621.6 228.3Z"/><path d="M621.7 229.9L624.1 227.5L626.5 229.9L624.1 232.3Z"/><path d="M624.2 233.4L626.6 231.0L629.0 233.4L626.6 235.8Z"/><path d="M626.7 236.7L629.1 234.3L631.5 236.7L629.1 239.1Z"/><path d="M629.2 239.8L631.6 237.4L634.0 239.8L631.6 242.2Z"/><path d="M631.7 242.7L634.1 240.3L636.5 242.7L634.1 245.1Z"/><path d="M634.1 245.3L636.5 242.9L638.9 245.3L636.5 247.7Z"/><path d="M636.6 247.7L639.0 245.3L641.4 247.7L639.0 250.1Z"/><path d="M639.1 249.8L641.5 247.4L643.9 249.8L641.5 252.2Z"/><path d="M641.6 251.8L644.0 249.4L646.4 251.8L644.0 254.2Z"/><path d="M644.1 253.6L646.5 251.2L648.9 253.6L646.5 256.0Z"/><path d="M646.6 255.2L649.0 252.8L651.4 255.2L649.0 257.6Z"/><path d="M649.1 256.7L651.5 254.3L653.9 256.7L651.5 259.1Z"/><path d="M651.5 258.0L653.9 255.6L656.3 258.0L653.9 260.4Z"/><path d="M654.0 259.2L656.4 256.8L658.8 259.2L656.4 261.6Z"/><path d="M656.5 260.1L658.9 257.7L661.3 260.1L658.9 262.5Z"/><path d="M659.0 261.0L661.4 258.6L663.8 261.0L661.4 263.4Z"/><path d="M661.5 261.7L663.9 259.3L666.3 261.7L663.9 264.1Z"/><path d="M664.0 262.4L666.4 260.0L668.8 262.4L666.4 264.8Z"/><path d="M666.5 262.9L668.9 260.5L671.3 262.9L668.9 265.3Z"/><path d="M669.0 263.0L671.4 260.6L673.8 263.0L671.4 265.4Z"/><path d="M671.4 263.0L673.8 260.6L676.2 263.0L673.8 265.4Z"/><path d="M673.9 262.9L676.3 260.5L678.7 262.9L676.3 265.3Z"/><path d="M676.4 262.8L678.8 260.4L681.2 262.8L678.8 265.2Z"/><path d="M678.9 262.6L681.3 260.2L683.7 262.6L681.3 265.0Z"/><path d="M681.4 262.3L683.8 259.9L686.2 262.3L683.8 264.7Z"/><path d="M683.9 261.9L686.3 259.5L688.7 261.9L686.3 264.3Z"/><path d="M686.4 261.4L688.8 259.0L691.2 261.4L688.8 263.8Z"/><path d="M688.8 261.0L691.2 258.6L693.6 261.0L691.2 263.4Z"/><path d="M691.3 260.5L693.7 258.1L696.1 260.5L693.7 262.9Z"/><path d="M693.8 260.2L696.2 257.8L698.6 260.2L696.2 262.6Z"/><path d="M696.3 260.1L698.7 257.7L701.1 260.1L698.7 262.5Z"/><path d="M698.8 260.3L701.2 257.9L703.6 260.3L701.2 262.7Z"/><path d="M701.3 260.9L703.7 258.5L706.1 260.9L703.7 263.3Z"/><path d="M703.8 261.8L706.2 259.4L708.6 261.8L706.2 264.2Z"/><path d="M706.3 262.9L708.7 260.5L711.1 262.9L708.7 265.3Z"/><path d="M708.7 264.7L711.1 262.3L713.5 264.7L711.1 267.1Z"/><path d="M711.2 266.9L713.6 264.5L716.0 266.9L713.6 269.3Z"/><path d="M713.7 269.0L716.1 266.6L718.5 269.0L716.1 271.4Z"/><path d="M716.2 271.4L718.6 269.0L721.0 271.4L718.6 273.8Z"/><path d="M718.7 274.6L721.1 272.2L723.5 274.6L721.1 277.0Z"/><path d="M721.2 277.4L723.6 275.0L726.0 277.4L723.6 279.8Z"/><path d="M609.9 221.2L612.3 218.8L614.7 221.2L612.3 223.6Z"/></g>
<g fill="none" stroke="#2a2ac4" stroke-width="1"><circle cx="497.3" cy="308.1" r="1.75"/><circle cx="499.8" cy="307.3" r="1.75"/><circle cx="502.3" cy="306.5" r="1.75"/><circle cx="504.8" cy="305.6" r="1.75"/><circle cx="507.2" cy="304.8" r="1.75"/><circle cx="509.7" cy="304.0" r="1.75"/><circle cx="512.2" cy="303.1" r="1.75"/><circle cx="514.7" cy="302.0" r="1.75"/><circle cx="517.2" cy="300.8" r="1.75"/><circle cx="519.7" cy="299.3" r="1.75"/><circle cx="522.2" cy="297.5" r="1.75"/><circle cx="524.7" cy="295.6" r="1.75"/><circle cx="527.1" cy="293.7" r="1.75"/><circle cx="529.6" cy="291.7" r="1.75"/><circle cx="532.1" cy="289.5" r="1.75"/><circle cx="534.6" cy="287.4" r="1.75"/><circle cx="537.1" cy="285.2" r="1.75"/><circle cx="539.6" cy="282.9" r="1.75"/><circle cx="542.1" cy="280.8" r="1.75"/><circle cx="544.5" cy="278.8" r="1.75"/><circle cx="547.0" cy="277.0" r="1.75"/><circle cx="549.5" cy="275.5" r="1.75"/><circle cx="552.0" cy="274.3" r="1.75"/><circle cx="554.5" cy="273.2" r="1.75"/><circle cx="557.0" cy="272.4" r="1.75"/><circle cx="559.5" cy="271.7" r="1.75"/><circle cx="561.9" cy="271.1" r="1.75"/><circle cx="564.4" cy="270.8" r="1.75"/><circle cx="566.9" cy="270.8" r="1.75"/><circle cx="569.4" cy="270.8" r="1.75"/><circle cx="571.9" cy="270.8" r="1.75"/><circle cx="574.4" cy="270.9" r="1.75"/><circle cx="576.9" cy="271.5" r="1.75"/><circle cx="579.4" cy="272.1" r="1.75"/><circle cx="581.8" cy="272.7" r="1.75"/><circle cx="584.3" cy="273.4" r="1.75"/><circle cx="586.8" cy="274.0" r="1.75"/><circle cx="589.3" cy="274.4" r="1.75"/><circle cx="591.8" cy="274.7" r="1.75"/><circle cx="594.3" cy="275.1" r="1.75"/><circle cx="596.8" cy="275.7" r="1.75"/><circle cx="599.2" cy="276.3" r="1.75"/><circle cx="601.7" cy="276.6" r="1.75"/><circle cx="604.2" cy="276.8" r="1.75"/><circle cx="606.7" cy="277.0" r="1.75"/><circle cx="609.2" cy="277.1" r="1.75"/><circle cx="611.7" cy="277.1" r="1.75"/><circle cx="614.2" cy="277.1" r="1.75"/><circle cx="616.7" cy="277.1" r="1.75"/><circle cx="619.1" cy="277.1" r="1.75"/><circle cx="621.6" cy="277.1" r="1.75"/><circle cx="624.1" cy="277.0" r="1.75"/><circle cx="626.6" cy="276.8" r="1.75"/><circle cx="629.1" cy="276.7" r="1.75"/><circle cx="631.6" cy="276.4" r="1.75"/><circle cx="634.1" cy="276.0" r="1.75"/><circle cx="636.5" cy="275.5" r="1.75"/><circle cx="639.0" cy="274.7" r="1.75"/><circle cx="641.5" cy="273.5" r="1.75"/><circle cx="644.0" cy="272.7" r="1.75"/><circle cx="646.5" cy="272.3" r="1.75"/><circle cx="649.0" cy="271.8" r="1.75"/><circle cx="651.5" cy="271.2" r="1.75"/><circle cx="653.9" cy="269.9" r="1.75"/><circle cx="656.4" cy="268.0" r="1.75"/><circle cx="658.9" cy="266.0" r="1.75"/><circle cx="661.4" cy="263.8" r="1.75"/><circle cx="663.9" cy="260.9" r="1.75"/><circle cx="666.4" cy="257.3" r="1.75"/><circle cx="668.9" cy="253.2" r="1.75"/><circle cx="671.4" cy="249.0" r="1.75"/><circle cx="673.8" cy="245.0" r="1.75"/><circle cx="676.3" cy="240.7" r="1.75"/><circle cx="678.8" cy="236.1" r="1.75"/><circle cx="681.3" cy="230.2" r="1.75"/><circle cx="683.8" cy="222.7" r="1.75"/><circle cx="686.3" cy="215.0" r="1.75"/><circle cx="688.8" cy="208.2" r="1.75"/><circle cx="691.2" cy="202.1" r="1.75"/><circle cx="693.7" cy="196.6" r="1.75"/><circle cx="696.2" cy="189.8" r="1.75"/><circle cx="698.7" cy="185.9" r="1.75"/><circle cx="701.2" cy="183.2" r="1.75"/><circle cx="703.7" cy="180.9" r="1.75"/><circle cx="706.2" cy="179.0" r="1.75"/><circle cx="708.7" cy="180.1" r="1.75"/><circle cx="711.1" cy="183.1" r="1.75"/><circle cx="713.6" cy="186.9" r="1.75"/><circle cx="716.1" cy="191.9" r="1.75"/><circle cx="718.6" cy="200.5" r="1.75"/><circle cx="721.1" cy="209.6" r="1.75"/><circle cx="723.6" cy="214.5" r="1.75"/><circle cx="611.1" cy="281.9" r="1.75"/></g>
<rect x="583.5" y="124.5" width="17.5" height="12" fill="#1428b4" stroke="#111" stroke-width="1"/>
<rect x="583.5" y="141.5" width="18" height="12" fill="#b41a22" stroke="#111" stroke-width="1"/>
<text x="605.5" y="133.5" class="lg" fill="#22229a"><tspan font-weight="bold">ARDSNetwork</tspan> 24 h</text>
<text x="613" y="151" class="lg" fill="#b02424">OLC 24 h</text>
<rect x="499.5" y="334" width="219.5" height="18" fill="#fff" stroke="#111" stroke-width="1"/>
<rect x="500" y="334.5" width="21.3" height="17" fill="#b41a22"/>
<rect x="521.3" y="334.5" width="79" height="17" fill="#2c2ca8"/>
<rect x="681" y="334.5" width="38" height="17" fill="#050505"/>
</svg>

<div class="bl" style="left:485.5px;top:350.6px">hyper</div>
<div class="bl" style="left:530.8px;top:350.6px">normally</div>
<div class="bl" style="left:616.5px;top:350.6px">poorly</div>
<div class="bl" style="left:686.8px;top:350.6px">non</div>
</body></html>
